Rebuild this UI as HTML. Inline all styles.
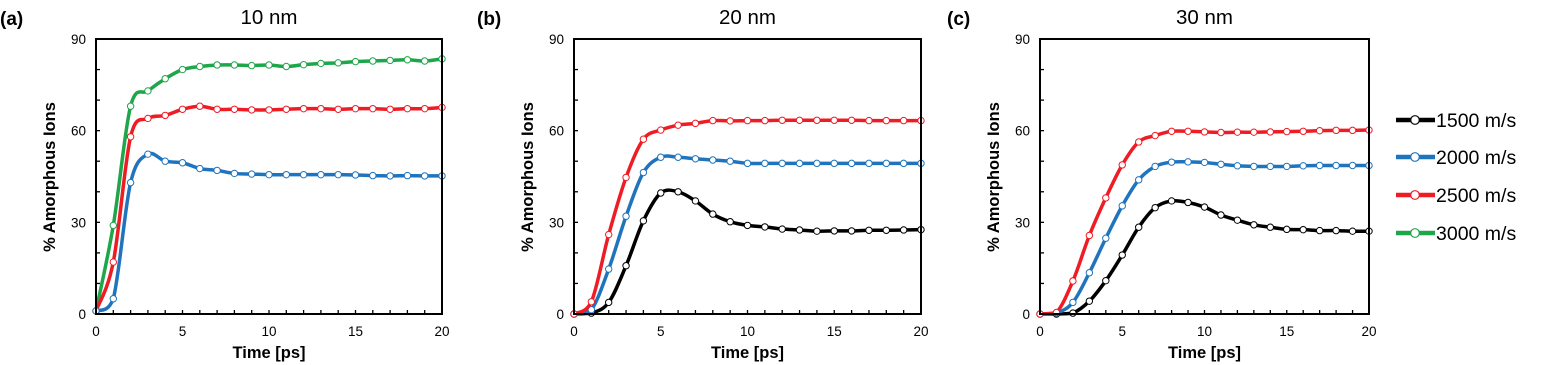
<!DOCTYPE html>
<html><head><meta charset="utf-8"><style>
html,body{margin:0;padding:0;background:#fff;}
svg{display:block;font-family:"Liberation Sans",Arial,sans-serif;}
</style></head><body>
<svg id="s" width="1550" height="365" viewBox="0 0 1550 365" xmlns="http://www.w3.org/2000/svg"></svg>
<script>
const C={k:"#000000",b:"#1f74bd",r:"#ee1c24",g:"#1fa64a"};
const P=[
 {x0:96,x1:442,lab:"(a)",lx:0,t:"10 nm",s:{
  g:[1,29,68,73,77,80,81,81.5,81.5,81.3,81.5,81,81.6,82,82.2,82.6,82.8,83,83.2,82.8,83.5],
  r:[1,17,58,64,65,67,68,67,67,66.8,66.8,67,67.2,67.2,67,67.2,67.2,67,67.2,67.2,67.6],
  b:[1,5,43,52.3,50,49.5,47.6,47,46,45.8,45.6,45.6,45.6,45.6,45.6,45.5,45.3,45.2,45.3,45.2,45.2]}},
 {x0:574,x1:921,lab:"(b)",lx:477,t:"20 nm",s:{
  k:[0,0.3,3.8,15.8,30.5,39.6,40,37,32.7,30.2,29,28.5,27.8,27.5,27.1,27.2,27.2,27.4,27.4,27.5,27.6],
  b:[0,1.4,14.7,32,46.3,51.3,51.3,50.8,50.4,50,49.3,49.3,49.3,49.3,49.3,49.3,49.3,49.3,49.3,49.3,49.3],
  r:[0,4,26,44.7,57.2,60.2,61.8,62.4,63.3,63.2,63.3,63.3,63.4,63.4,63.4,63.4,63.4,63.3,63.3,63.3,63.3]}},
 {x0:1040,x1:1369,lab:"(c)",lx:947,t:"30 nm",s:{
  k:[0,0,0.3,4.2,10.9,19.3,28.4,34.8,37,36.5,35,32.4,30.7,29.2,28.4,27.7,27.6,27.3,27.3,27.1,27.1],
  b:[0,0.3,3.8,13.5,24.8,35.4,43.9,48.3,49.7,49.8,49.6,49,48.5,48.3,48.3,48.3,48.5,48.6,48.6,48.6,48.6],
  r:[0,0.5,10.8,25.7,38,48.8,56.3,58.4,59.8,59.8,59.6,59.4,59.5,59.5,59.6,59.7,59.8,60,60.1,60.1,60.2]}}
];
const Y0=314,Y90=39;
let h="";
function yy(v){return Y0-(v/90)*(Y0-Y90);}
for(const p of P){
 const xx=t=>p.x0+t/20*(p.x1-p.x0);
 h+=`<text x="${p.lx}" y="25" font-size="19" font-weight="bold">${p.lab}</text>`;
 h+=`<text x="${(p.x0+p.x1)/2}" y="24" font-size="20.5" text-anchor="middle">${p.t}</text>`;
 for(let t=1;t<20;t++){h+=`<line x1="${xx(t)}" y1="${Y0}" x2="${xx(t)}" y2="${Y0-4}" stroke="#000" stroke-width="1.3"/>`;}
 for(let v=10;v<90;v+=10){h+=`<line x1="${p.x0}" y1="${yy(v)}" x2="${p.x0+4}" y2="${yy(v)}" stroke="#000" stroke-width="1.3"/>`;}
 for(const t of [0,5,10,15,20])h+=`<text x="${xx(t)}" y="${Y0+22}" font-size="13.5" text-anchor="middle">${t}</text>`;
 for(const v of [0,30,60,90])h+=`<text x="${p.x0-10}" y="${yy(v)+5}" font-size="13.5" text-anchor="end">${v}</text>`;
 h+=`<text x="${(p.x0+p.x1)/2}" y="358" font-size="16.5" font-weight="bold" text-anchor="middle">Time [ps]</text>`;
 const lx=p.x0-41;
 h+=`<text transform="translate(${lx},177) rotate(-90)" font-size="16.5" font-weight="bold" text-anchor="middle">% Amorphous Ions</text>`;
 for(const k in p.s){
  const d=p.s[k],pts=d.map((v,i)=>[xx(i),yy(v)]);
  let path=`M${pts[0][0]},${pts[0][1]}`;
  for(let i=0;i<pts.length-1;i++){
   const a=pts[Math.max(0,i-1)],b=pts[i],c=pts[i+1],e=pts[Math.min(pts.length-1,i+2)];
   const c1=[b[0]+(c[0]-a[0])/6,Math.min(Y0,b[1]+(c[1]-a[1])/6)],c2=[c[0]-(e[0]-b[0])/6,Math.min(Y0,c[1]-(e[1]-b[1])/6)];
   path+=` C${c1[0]},${c1[1]} ${c2[0]},${c2[1]} ${c[0]},${c[1]}`;
  }
  h+=`<path d="${path}" fill="none" stroke="${C[k]}" stroke-width="3.5"/>`;
  for(const q of pts)h+=`<circle cx="${q[0]}" cy="${q[1]}" r="3.2" fill="#fff" stroke="${C[k]}" stroke-width="1"/>`;
 }
 h+=`<rect x="${p.x0}" y="${Y90}" width="${p.x1-p.x0}" height="${Y0-Y90}" fill="none" stroke="#000" stroke-width="2"/>`;
}
const L=[["k","1500 m/s",120],["b","2000 m/s",157],["r","2500 m/s",195],["g","3000 m/s",233]];
for(const [k,t,y] of L){
 h+=`<line x1="1396" y1="${y}" x2="1435" y2="${y}" stroke="${C[k]}" stroke-width="4.5"/>`;
 h+=`<circle cx="1415" cy="${y}" r="4.3" fill="#fff" stroke="${C[k]}" stroke-width="1.2"/>`;
 h+=`<text x="1436" y="${y+7}" font-size="19.5">${t}</text>`;
}
document.getElementById("s").innerHTML=h;
</script>
</body></html>
